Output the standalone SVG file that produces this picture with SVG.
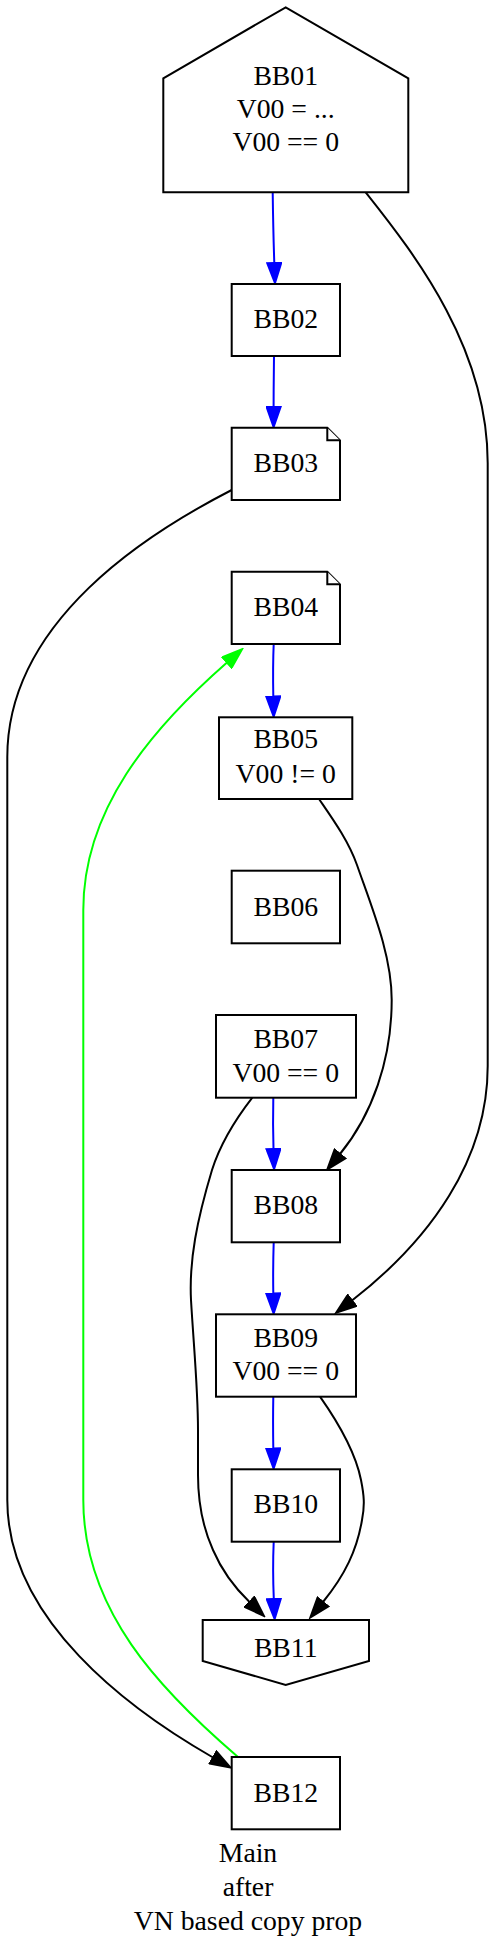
<svg xmlns="http://www.w3.org/2000/svg" width="496" height="1954" viewBox="0 0 496 1954">
<style>
.n{fill:#fff;stroke:#000;stroke-width:2}
.t{font-family:"Liberation Serif","Times New Roman",serif;font-size:27.7px;text-anchor:middle;fill:#000}
.e{fill:none;stroke-width:2}
.b{stroke:#00f}
.k{stroke:#000}
.g{stroke:#0f0}
</style>
<defs>
<marker id="ab" markerUnits="userSpaceOnUse" viewBox="0 0 23 16" refX="1" refY="8" markerWidth="23" markerHeight="16" orient="auto"><path d="M1,1 L21,8 L1,15 Z" fill="#00f" stroke="#00f" stroke-width="2"/></marker>
<marker id="ak" markerUnits="userSpaceOnUse" viewBox="0 0 23 16" refX="1" refY="8" markerWidth="23" markerHeight="16" orient="auto"><path d="M1,1 L21,8 L1,15 Z" fill="#000" stroke="#000" stroke-width="2"/></marker>
<marker id="ag" markerUnits="userSpaceOnUse" viewBox="0 0 23 16" refX="1" refY="8" markerWidth="23" markerHeight="16" orient="auto"><path d="M1,1 L21,8 L1,15 Z" fill="#0f0" stroke="#0f0" stroke-width="2"/></marker>
</defs>
<rect width="496" height="1954" fill="#fff"/>
<g id="edges">
<path class="e b" marker-end="url(#ab)" d="M272.7,192.3 C273,215 273.5,240 274.3,263"/>
<path class="e b" marker-end="url(#ab)" d="M274,356 C273.8,372 273.6,390 273.6,407"/>
<path class="e b" marker-end="url(#ab)" d="M273.7,644 C273,660 273,680 273.3,696.5"/>
<path class="e b" marker-end="url(#ab)" d="M273.3,1097.7 C273,1112 273,1132 273.5,1149"/>
<path class="e b" marker-end="url(#ab)" d="M273.7,1242.3 C273.2,1258 273,1276 273.3,1293.5"/>
<path class="e b" marker-end="url(#ab)" d="M273.3,1396.7 C273,1412 273,1430 273.3,1448.5"/>
<path class="e b" marker-end="url(#ab)" d="M273.7,1541.7 C273,1558 273,1580 273.8,1599"/>
<path class="e k" marker-end="url(#ak)" d="M365.7,192.3 C418,258 487.7,350 487.7,463 L487.7,1066 C487.7,1160 430,1240 352,1300.5"/>
<path class="e k" marker-end="url(#ak)" d="M319,799 C332,818 348,840 357,865 C372,908 391.7,955 391.7,1000 C391.7,1060 372,1115 340,1154"/>
<path class="e k" marker-end="url(#ak)" d="M252.3,1097.7 C235,1120 220,1145 212,1170 C197,1220 189,1260 191,1300 C194,1350 198,1390 198,1430 L198,1475 C198,1505 204,1530 213,1550 C222,1571 235,1588 249.5,1602"/>
<path class="e k" marker-end="url(#ak)" d="M320,1396.7 C335,1418 355,1450 361,1480 C364,1495 365,1505 362,1520 C357,1550 345,1575 323,1602"/>
<path class="e k" marker-end="url(#ak)" d="M231.7,490 C150,532 7.3,620 7.3,757 L7.3,1500 C7.3,1620 130,1710 213,1757.5"/>
<path class="e g" marker-end="url(#ag)" d="M237.7,1756.7 C160,1690 83.3,1610 83.3,1500 L83.3,910 C83.3,810 150,730 227,662.5"/>
</g>
<g id="BB01"><polygon class="n" points="408.3,192.3 408.3,78.3 285.7,7.3 163.3,78.3 163.3,192.3"/><text class="t" x="285.7" y="84.8">BB01</text><text class="t" x="285.7" y="118.1">V00 = ...</text><text class="t" x="285.7" y="151.4">V00 == 0</text></g>
<g id="BB02"><rect class="n" x="231.7" y="284" width="108.3" height="72"/><text class="t" x="285.8" y="328.3">BB02</text></g>
<g id="BB03"><path class="n" d="M231.7,427.7 L327.3,427.7 L340,440.3 L340,500 L231.7,500 Z"/><path class="n" d="M327.3,427.7 L327.3,440.3 L340,440.3"/><text class="t" x="285.8" y="471.7">BB03</text></g>
<g id="BB04"><path class="n" d="M231.7,571.7 L327.3,571.7 L340,584.3 L340,644 L231.7,644 Z"/><path class="n" d="M327.3,571.7 L327.3,584.3 L340,584.3"/><text class="t" x="285.8" y="616">BB04</text></g>
<g id="BB05"><rect class="n" x="219" y="717.3" width="133.3" height="81.7"/><text class="t" x="285.7" y="748.3">BB05</text><text class="t" x="285.7" y="782.7">V00 != 0</text></g>
<g id="BB06"><rect class="n" x="231.7" y="870.7" width="108.3" height="72.6"/><text class="t" x="285.8" y="916">BB06</text></g>
<g id="BB07"><rect class="n" x="216" y="1015" width="140" height="82.7"/><text class="t" x="285.7" y="1048.3">BB07</text><text class="t" x="285.7" y="1081.7">V00 == 0</text></g>
<g id="BB08"><rect class="n" x="231.7" y="1170" width="108.3" height="72.3"/><text class="t" x="285.8" y="1214.3">BB08</text></g>
<g id="BB09"><rect class="n" x="216" y="1314.3" width="140" height="82.4"/><text class="t" x="285.7" y="1347.3">BB09</text><text class="t" x="285.7" y="1380">V00 == 0</text></g>
<g id="BB10"><rect class="n" x="231.7" y="1469.3" width="108.3" height="72.4"/><text class="t" x="285.8" y="1513.3">BB10</text></g>
<g id="BB11"><polygon class="n" points="369,1620 369,1661 285.7,1685 202.7,1661 202.7,1620"/><text class="t" x="285.7" y="1657.3">BB11</text></g>
<g id="BB12"><rect class="n" x="231.7" y="1757" width="108.3" height="72.3"/><text class="t" x="285.8" y="1801.7">BB12</text></g>
<g id="caption"><text class="t" x="248" y="1861.7">Main</text><text class="t" x="248" y="1895.7">after</text><text class="t" x="248" y="1930">VN based copy prop</text></g>
</svg>
